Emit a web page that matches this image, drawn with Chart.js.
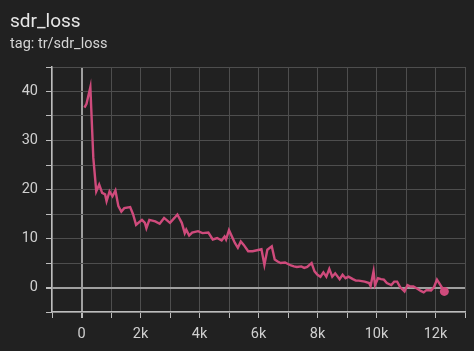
<!DOCTYPE html>
<html><head><meta charset="utf-8">
<script src="https://cdn.jsdelivr.net/npm/chart.js@4.4.0/dist/chart.umd.min.js"></script>
<style>
html,body{margin:0;padding:0;background:#212121;width:474px;height:351px;overflow:hidden;font-family:Roboto,"Noto Sans",sans-serif;}
#t1{position:absolute;left:10px;top:9px;font-size:19px;color:#e6e6e6;}
#t2{position:absolute;left:10px;top:35px;font-size:14.5px;color:#d6d6d6;}
#wrap{position:absolute;left:0;top:0;width:474px;height:351px;}
</style></head>
<body>
<div id="wrap"><canvas id="c" width="474" height="351"></canvas></div>
<div id="t1">sdr_loss</div>
<div id="t2">tag: tr/sdr_loss</div>
<script>
const steps = [100,170,300,400,500,600,700,800,850,950,1050,1150,1250,1350,1450,1650,1750,1850,2050,2150,2200,2300,2500,2650,2800,3000,3150,3250,3400,3500,3550,3650,3750,3950,4100,4300,4450,4600,4750,4850,4900,5000,5200,5300,5400,5500,5650,5800,5950,6100,6200,6300,6450,6550,6650,6750,6900,7000,7100,7200,7300,7450,7550,7650,7800,7900,8000,8100,8200,8300,8400,8500,8600,8750,8850,8950,9050,9200,9300,9400,9600,9750,9800,9900,9950,10050,10150,10250,10350,10500,10600,10700,10800,10950,11050,11150,11250,11400,11500,11600,11700,11850,11950,12050,12300];
const losses = [36.7,37.5,40.9,26.5,19.6,21.0,19.3,19.0,17.6,19.6,18.6,19.8,16.6,15.5,16.2,16.4,14.9,12.8,13.8,13.2,12.1,13.8,13.5,13.0,14.2,13.2,14.2,14.9,13.2,11.1,11.8,10.6,11.2,11.5,11.1,11.2,9.8,10.1,9.6,10.4,9.8,11.7,9.1,8.1,9.4,8.7,7.4,7.4,7.6,7.8,4.6,7.7,8.4,5.7,5.3,5.0,5.1,4.8,4.5,4.3,4.2,4.3,4.0,4.2,5.0,3.3,2.6,2.2,3.1,2.2,3.8,2.2,2.9,1.7,2.6,1.9,2.2,1.7,1.4,1.4,1.2,0.9,0.3,3.3,0.5,1.9,1.7,1.6,0.9,0.5,1.2,1.2,0.1,-0.8,0.5,0.2,0.2,-0.3,-0.7,-1.0,-0.5,-0.6,0.1,1.6,-0.8];
const xTickLabels = ['0','2k','4k','6k','8k','10k','12k'];

const pts = steps.map((s,i)=>({x:s,y:losses[i]}));
const lineColor = '#cf4b7c';
const axisColor = '#bdbdbd';

new Chart(document.getElementById('c'), {
  type: 'line',
  data: { datasets: [{
    data: pts,
    borderColor: lineColor,
    backgroundColor: lineColor,
    borderWidth: 2.4,
    tension: 0,
    pointRadius: ctx => ctx.dataIndex === pts.length-1 ? 4.5 : 0,
    pointBorderWidth: 0,
    pointHoverRadius: 0
  }]},
  options: {
    responsive: false,
    animation: false,
    events: [],
    layout: { padding: { left: 0, top: 67, right: 9, bottom: 0 } },
    plugins: { legend: {display:false}, tooltip: {enabled:false} },
    scales: {
      x: {
        type: 'linear', min: -1000, max: 13000,
        afterFit: s => { s.height = 39; },
        ticks: {
          stepSize: 1000, autoSkip: false, maxRotation: 0,
          color: '#d0d0d0', font: { family: 'Roboto', size: 14.5 }, padding: 8,
          callback: v => (v >= 0 && v % 2000 === 0) ? xTickLabels[v/2000] : ''
        },
        grid: {
          color: c => c.tick && c.tick.value === 0 ? '#a0a0a0' : '#4e4e4e',
          lineWidth: c => c.tick && c.tick.value === 0 ? 2 : 1,
          tickColor: axisColor, tickLength: 6
        },
        border: { color: axisColor, width: 1.5 }
      },
      y: {
        min: -5, max: 45,
        afterFit: s => { s.width = 52; },
        ticks: {
          stepSize: 5, autoSkip: false,
          color: '#d0d0d0', font: { family: 'Roboto', size: 14.5 }, padding: 8,
          callback: v => (v % 10 === 0 && v >= 0 && v <= 40) ? String(v) : ''
        },
        grid: {
          color: c => c.tick && c.tick.value === 0 ? '#a0a0a0' : '#4e4e4e',
          lineWidth: c => c.tick && c.tick.value === 0 ? 2 : 1,
          tickColor: axisColor, tickLength: 6
        },
        border: { color: axisColor, width: 1.5 }
      }
    }
  }
});
</script>
</body></html>
